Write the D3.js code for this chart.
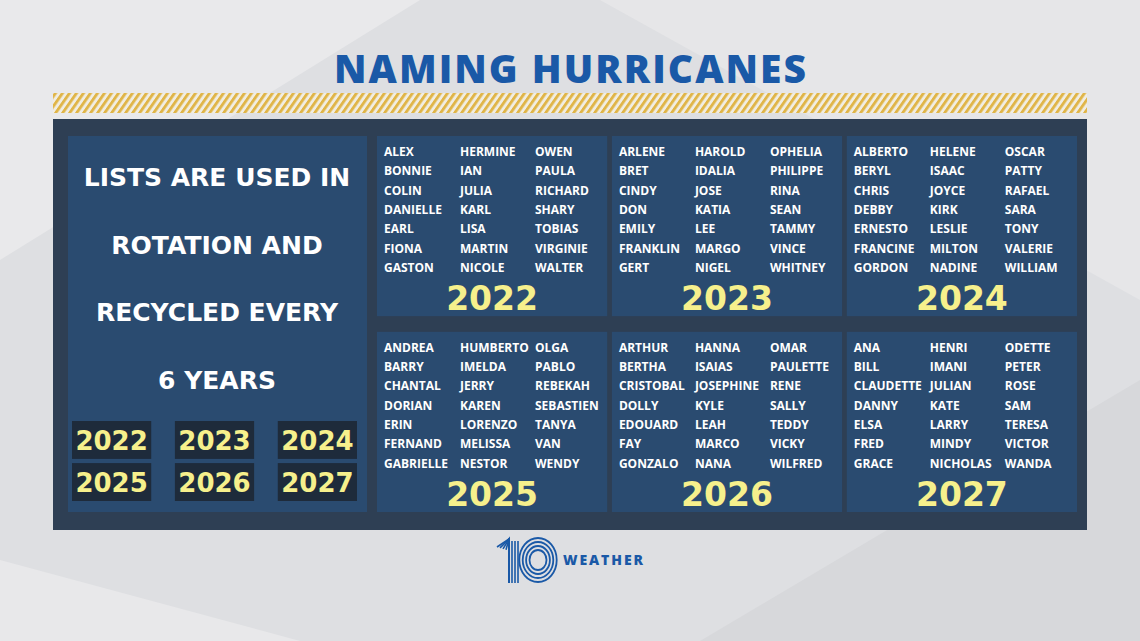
<!DOCTYPE html>
<html><head><meta charset="utf-8">
<script src="https://cdn.jsdelivr.net/npm/d3@7"></script>
<style>body{margin:0;overflow:hidden}svg{display:block}</style>
</head><body>
<script>
const years = ["2022","2023","2024","2025","2026","2027"];
const names2022 = ["ALEX","BONNIE","COLIN","DANIELLE","EARL","FIONA","GASTON","HERMINE","IAN","JULIA","KARL","LISA","MARTIN","NICOLE","OWEN","PAULA","RICHARD","SHARY","TOBIAS","VIRGINIE","WALTER"];
const names2023 = ["ARLENE","BRET","CINDY","DON","EMILY","FRANKLIN","GERT","HAROLD","IDALIA","JOSE","KATIA","LEE","MARGO","NIGEL","OPHELIA","PHILIPPE","RINA","SEAN","TAMMY","VINCE","WHITNEY"];
const names2024 = ["ALBERTO","BERYL","CHRIS","DEBBY","ERNESTO","FRANCINE","GORDON","HELENE","ISAAC","JOYCE","KIRK","LESLIE","MILTON","NADINE","OSCAR","PATTY","RAFAEL","SARA","TONY","VALERIE","WILLIAM"];
const names2025 = ["ANDREA","BARRY","CHANTAL","DORIAN","ERIN","FERNAND","GABRIELLE","HUMBERTO","IMELDA","JERRY","KAREN","LORENZO","MELISSA","NESTOR","OLGA","PABLO","REBEKAH","SEBASTIEN","TANYA","VAN","WENDY"];
const names2026 = ["ARTHUR","BERTHA","CRISTOBAL","DOLLY","EDOUARD","FAY","GONZALO","HANNA","ISAIAS","JOSEPHINE","KYLE","LEAH","MARCO","NANA","OMAR","PAULETTE","RENE","SALLY","TEDDY","VICKY","WILFRED"];
const names2027 = ["ANA","BILL","CLAUDETTE","DANNY","ELSA","FRED","GRACE","HENRI","IMANI","JULIAN","KATE","LARRY","MINDY","NICHOLAS","ODETTE","PETER","ROSE","SAM","TERESA","VICTOR","WANDA"];
const nameLists = [names2022,names2023,names2024,names2025,names2026,names2027];
const leftLines = ["LISTS ARE USED IN","ROTATION AND","RECYCLED EVERY","6 YEARS"];
const title = "NAMING HURRICANES";

const W=1140,H=641;
const svg=d3.select("body").append("svg").attr("width",W).attr("height",H);
const defs=svg.append("defs");
const pat=defs.append("pattern").attr("id","stripes").attr("width",7).attr("height",20).attr("patternUnits","userSpaceOnUse").attr("patternTransform","skewX(-35)");
pat.append("rect").attr("width",7).attr("height",20).attr("fill","#f1ede2");
pat.append("rect").attr("width",3.5).attr("height",20).attr("fill","#e0b548");

svg.append("rect").attr("width",W).attr("height",H).attr("fill","#dedfe2");
svg.append("path").attr("d","M0,0 L420,0 L0,260 Z").attr("fill","#e9e9eb");
svg.append("path").attr("d","M600,0 L1140,0 L1140,300 Z").attr("fill","#e6e6e8");
svg.append("path").attr("d","M700,641 L1140,380 L1140,641 Z").attr("fill","#d7d8db");
svg.append("path").attr("d","M0,641 L0,560 L300,641 Z").attr("fill","#e8e8ea");

svg.append("text").attr("x",570).attr("y",83).attr("text-anchor","middle")
  .attr("font-family","Open Sans").attr("font-weight",800).attr("font-size",39)
  .attr("fill","#1a59a7").attr("textLength",472).text(title);

svg.append("rect").attr("x",53).attr("y",93).attr("width",1034).attr("height",20).attr("fill","url(#stripes)");
svg.append("rect").attr("x",53).attr("y",119).attr("width",1034).attr("height",411).attr("fill","#2e3f54");
svg.append("rect").attr("x",68).attr("y",136).attr("width",299).attr("height",376).attr("fill","#2a4b70");

const ly=d3.scalePoint().domain(leftLines).range([176,379]);
svg.selectAll(".ll").data(leftLines).join("text")
  .attr("x",217).attr("y",d=>ly(d)+10).attr("text-anchor","middle")
  .attr("font-family","DejaVu Sans").attr("font-weight",700).attr("font-size",25)
  .attr("fill","#fff").text(d=>d);

const bx=d3.scaleBand().domain([0,1,2]).range([72,357]).paddingInner(0.23);
const by=d3.scaleBand().domain([0,1]).range([421,501]).paddingInner(0.1);
const yb=svg.selectAll(".yb").data(years).join("g")
  .attr("transform",(d,i)=>`translate(${bx(i%3)},${by(Math.floor(i/3))})`);
yb.append("rect").attr("width",bx.bandwidth()).attr("height",by.bandwidth()).attr("fill","#1e2b3b");
yb.append("text").attr("x",bx.bandwidth()/2).attr("y",by.bandwidth()/2+10).attr("text-anchor","middle")
  .attr("font-family","DejaVu Sans").attr("font-weight",700).attr("font-size",26).attr("fill","#f6f08c").text(d=>d);

const cx=d3.scaleBand().domain([0,1,2]).range([377,1077]).paddingInner(0.02);
const cy=d3.scaleBand().domain([0,1]).range([136,512]).paddingInner(0.08);
const cards=svg.selectAll(".card").data(years).join("g")
  .attr("transform",(d,i)=>`translate(${cx(i%3)},${cy(Math.floor(i/3))})`);
cards.append("rect").attr("width",cx.bandwidth()).attr("height",cy.bandwidth()).attr("fill","#2a4b70");
const colX=d3.scaleOrdinal().domain([0,1,2]).range([7,83,158]);
const rowY=d3.scaleLinear().domain([0,6]).range([16,132]);
cards.each(function(d,i){
  const g=d3.select(this);
  g.selectAll("text.n").data(nameLists[i]).join("text").attr("class","n")
    .attr("x",(n,j)=>colX(Math.floor(j/7)))
    .attr("y",(n,j)=>rowY(j%7)+4)
    .attr("font-family","Open Sans").attr("font-weight",700).attr("font-size",12)
    .attr("fill","#fff").text(n=>n);
  g.append("text").attr("x",cx.bandwidth()/2).attr("y",cy.bandwidth()-6).attr("text-anchor","middle")
    .attr("font-family","DejaVu Sans").attr("font-weight",700).attr("font-size",33)
    .attr("fill","#f6f08c").text(d);
});

const logo=svg.append("g").attr("transform","translate(497,537)");
[0,3,6,9].forEach(o=>{
  logo.append("path").attr("d",`M${o},${10+o*0.3} L${12},${2} L${12},46`).attr("fill","none").attr("stroke","#1a59a7").attr("stroke-width",1.6);
});
[22,18,14,10].forEach(r=>logo.append("ellipse").attr("cx",41).attr("cy",23).attr("rx",r*0.85).attr("ry",r).attr("fill","none").attr("stroke","#1a59a7").attr("stroke-width",1.8));
for(let k=0;k<4;k++) logo.append("line").attr("x1",12+k*3).attr("x2",12+k*3).attr("y1",4).attr("y2",46).attr("stroke","#1a59a7").attr("stroke-width",1.6);
logo.append("text").attr("x",66).attr("y",28).attr("font-family","Open Sans").attr("font-weight",800).attr("font-size",14).attr("fill","#1a59a7").attr("textLength",80).text("WEATHER");
</script>
</body></html>
